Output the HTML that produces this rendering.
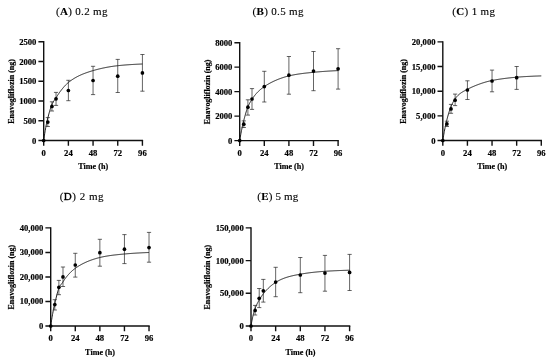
<!DOCTYPE html>
<html lang="en"><head><meta charset="utf-8"><title>Enavogliflozin release profiles</title>
<style>html,body{margin:0;padding:0;background:#fff}body{width:550px;height:364px;overflow:hidden}svg{display:block}</style>
</head><body>
<svg width="550" height="364" viewBox="0 0 550 364" font-family='"Liberation Serif", "Times New Roman", serif'><rect width="550" height="364" fill="#fff"/><g id="panelA"><text x="55.9" y="14.7" font-size="11" letter-spacing="0.33" fill="#000" stroke="#000" stroke-width="0.12">(<tspan font-weight="bold">A</tspan>) 0.2 mg</text><path d="M43.70 41.10V140.50" stroke="#111" stroke-width="1.4" fill="none"/><path d="M43.00 140.50H143.12" stroke="#111" stroke-width="1.4" fill="none"/><text x="36.40" y="143.50" font-size="8.65" font-weight="bold" stroke="#000" stroke-width="0.18" text-anchor="end" fill="#000">0</text><text x="36.40" y="123.76" font-size="8.65" font-weight="bold" stroke="#000" stroke-width="0.18" text-anchor="end" fill="#000">500</text><text x="36.40" y="104.02" font-size="8.65" font-weight="bold" stroke="#000" stroke-width="0.18" text-anchor="end" fill="#000">1000</text><text x="36.40" y="84.28" font-size="8.65" font-weight="bold" stroke="#000" stroke-width="0.18" text-anchor="end" fill="#000">1500</text><text x="36.40" y="64.54" font-size="8.65" font-weight="bold" stroke="#000" stroke-width="0.18" text-anchor="end" fill="#000">2000</text><text x="36.40" y="44.80" font-size="8.65" font-weight="bold" stroke="#000" stroke-width="0.18" text-anchor="end" fill="#000">2500</text><text x="43.70" y="155.90" font-size="8.65" font-weight="bold" stroke="#000" stroke-width="0.18" text-anchor="middle" fill="#000">0</text><text x="68.38" y="155.90" font-size="8.65" font-weight="bold" stroke="#000" stroke-width="0.18" text-anchor="middle" fill="#000">24</text><text x="93.06" y="155.90" font-size="8.65" font-weight="bold" stroke="#000" stroke-width="0.18" text-anchor="middle" fill="#000">48</text><text x="117.74" y="155.90" font-size="8.65" font-weight="bold" stroke="#000" stroke-width="0.18" text-anchor="middle" fill="#000">72</text><text x="142.42" y="155.90" font-size="8.65" font-weight="bold" stroke="#000" stroke-width="0.18" text-anchor="middle" fill="#000">96</text><path d="M38.40 140.50H43.70M38.40 120.76H43.70M38.40 101.02H43.70M38.40 81.28H43.70M38.40 61.54H43.70M38.40 41.80H43.70M43.70 140.50V145.80M68.38 140.50V145.80M93.06 140.50V145.80M117.74 140.50V145.80M142.42 140.50V145.80" stroke="#111" stroke-width="1.4" fill="none"/><text x="93.26" y="169.00" font-size="8.15" font-weight="bold" stroke="#000" stroke-width="0.18" text-anchor="middle" fill="#000">Time (h)</text><text transform="translate(14.10 91.45) rotate(-90)" font-size="7.95" font-weight="bold" stroke="#000" stroke-width="0.18" text-anchor="middle" fill="#000">Enavogliflozin (ng)</text><path d="M43.70 140.50 L43.96 138.63 L44.21 136.84 L44.47 135.12 L44.73 133.47 L44.99 131.89 L45.24 130.37 L45.50 128.90 L45.76 127.50 L46.01 126.15 L46.27 124.85 L46.53 123.59 L46.79 122.39 L47.04 121.23 L47.30 120.11 L47.56 119.04 L47.81 118.00 L48.07 116.99 L48.33 116.00 L48.58 115.02 L48.84 114.07 L49.10 113.13 L49.36 112.22 L49.61 111.32 L49.87 110.45 L50.13 109.61 L50.38 108.79 L50.64 108.00 L50.90 107.23 L51.16 106.50 L51.41 105.80 L51.67 105.13 L51.93 104.50 L52.18 103.91 L52.44 103.37 L52.70 102.86 L52.96 102.39 L53.21 101.95 L53.47 101.54 L53.73 101.15 L53.98 100.77 L54.24 100.41 L54.50 100.05 L54.75 99.70 L55.01 99.34 L55.27 98.98 L55.53 98.60 L55.78 98.21 L56.04 97.80 L56.30 97.38 L56.55 96.97 L56.81 96.56 L57.07 96.15 L57.33 95.75 L57.58 95.36 L57.84 94.97 L58.10 94.58 L58.35 94.20 L58.61 93.82 L58.87 93.45 L59.12 93.08 L59.38 92.71 L59.64 92.35 L59.90 91.99 L60.15 91.64 L60.41 91.29 L60.67 90.95 L60.92 90.60 L61.18 90.27 L61.44 89.93 L61.70 89.60 L61.95 89.27 L62.21 88.95 L62.47 88.63 L62.72 88.32 L62.98 88.01 L63.24 87.70 L63.50 87.40 L63.75 87.10 L64.01 86.81 L64.27 86.52 L64.52 86.23 L64.78 85.95 L65.04 85.67 L65.30 85.40 L65.55 85.13 L65.81 84.87 L66.07 84.61 L66.32 84.35 L66.58 84.10 L66.84 83.86 L67.09 83.62 L67.35 83.39 L67.61 83.16 L67.87 82.93 L68.12 82.71 L68.38 82.50 L68.89 82.08 L69.41 81.68 L69.92 81.28 L70.44 80.90 L70.95 80.53 L71.47 80.16 L71.98 79.81 L72.49 79.46 L73.01 79.13 L73.52 78.80 L74.04 78.48 L74.55 78.17 L75.06 77.86 L75.58 77.57 L76.09 77.28 L76.61 77.00 L77.12 76.73 L77.63 76.46 L78.15 76.20 L78.66 75.94 L79.18 75.69 L79.69 75.45 L80.21 75.21 L80.72 74.98 L81.23 74.75 L81.75 74.53 L82.26 74.32 L82.78 74.10 L83.29 73.90 L83.81 73.69 L84.32 73.50 L84.83 73.30 L85.35 73.11 L85.86 72.92 L86.38 72.74 L86.89 72.56 L87.40 72.38 L87.92 72.21 L88.43 72.04 L88.95 71.87 L89.46 71.70 L89.97 71.54 L90.49 71.38 L91.00 71.22 L91.52 71.06 L92.03 70.91 L92.55 70.75 L93.06 70.60 L93.57 70.45 L94.09 70.30 L94.60 70.16 L95.12 70.01 L95.63 69.87 L96.15 69.73 L96.66 69.60 L97.17 69.46 L97.69 69.33 L98.20 69.20 L98.72 69.07 L99.23 68.95 L99.74 68.82 L100.26 68.70 L100.77 68.58 L101.29 68.46 L101.80 68.35 L102.31 68.23 L102.83 68.12 L103.34 68.01 L103.86 67.90 L104.37 67.80 L104.89 67.69 L105.40 67.59 L105.91 67.49 L106.43 67.39 L106.94 67.29 L107.46 67.20 L107.97 67.11 L108.48 67.02 L109.00 66.93 L109.51 66.84 L110.03 66.75 L110.54 66.67 L111.06 66.59 L111.57 66.51 L112.08 66.43 L112.60 66.36 L113.11 66.28 L113.63 66.21 L114.14 66.14 L114.66 66.07 L115.17 66.00 L115.68 65.94 L116.20 65.88 L116.71 65.82 L117.23 65.76 L117.74 65.70 L118.25 65.64 L118.77 65.59 L119.28 65.54 L119.80 65.48 L120.31 65.43 L120.83 65.38 L121.34 65.33 L121.85 65.29 L122.37 65.24 L122.88 65.19 L123.40 65.15 L123.91 65.10 L124.42 65.06 L124.94 65.02 L125.45 64.98 L125.97 64.94 L126.48 64.90 L127.00 64.86 L127.51 64.82 L128.02 64.78 L128.54 64.75 L129.05 64.71 L129.57 64.68 L130.08 64.64 L130.59 64.61 L131.11 64.58 L131.62 64.54 L132.14 64.51 L132.65 64.48 L133.16 64.45 L133.68 64.42 L134.19 64.39 L134.71 64.36 L135.22 64.34 L135.74 64.31 L136.25 64.28 L136.76 64.26 L137.28 64.23 L137.79 64.20 L138.31 64.18 L138.82 64.16 L139.33 64.13 L139.85 64.11 L140.36 64.09 L140.88 64.06 L141.39 64.04 L141.91 64.02 L142.42 64.00" stroke="#111" stroke-width="0.95" fill="none" stroke-linejoin="round"/><path d="M47.81 117.60V126.50M45.71 117.60H49.91M45.71 126.50H49.91M51.93 101.80V111.00M49.83 101.80H54.03M49.83 111.00H54.03M56.04 92.40V105.40M53.94 92.40H58.14M53.94 105.40H58.14M68.38 80.30V100.70M66.28 80.30H70.48M66.28 100.70H70.48M93.06 66.30V94.60M90.96 66.30H95.16M90.96 94.60H95.16M117.74 59.40V92.50M115.64 59.40H119.84M115.64 92.50H119.84M142.42 54.50V91.20M140.32 54.50H144.52M140.32 91.20H144.52" stroke="#222" stroke-width="0.7" fill="none"/><circle cx="43.70" cy="140.50" r="1.85" fill="#000"/><circle cx="47.81" cy="122.10" r="1.85" fill="#000"/><circle cx="51.93" cy="106.40" r="1.85" fill="#000"/><circle cx="56.04" cy="98.80" r="1.85" fill="#000"/><circle cx="68.38" cy="90.50" r="1.85" fill="#000"/><circle cx="93.06" cy="80.50" r="1.85" fill="#000"/><circle cx="117.74" cy="76.20" r="1.85" fill="#000"/><circle cx="142.42" cy="72.90" r="1.85" fill="#000"/></g><g id="panelB"><text x="252.5" y="14.7" font-size="11" letter-spacing="0.33" fill="#000" stroke="#000" stroke-width="0.12">(<tspan font-weight="bold">B</tspan>) 0.5 mg</text><path d="M239.70 42.00V140.60" stroke="#111" stroke-width="1.4" fill="none"/><path d="M239.00 140.60H338.80" stroke="#111" stroke-width="1.4" fill="none"/><text x="232.40" y="143.60" font-size="8.65" font-weight="bold" stroke="#000" stroke-width="0.18" text-anchor="end" fill="#000">0</text><text x="232.40" y="119.12" font-size="8.65" font-weight="bold" stroke="#000" stroke-width="0.18" text-anchor="end" fill="#000">2000</text><text x="232.40" y="94.65" font-size="8.65" font-weight="bold" stroke="#000" stroke-width="0.18" text-anchor="end" fill="#000">4000</text><text x="232.40" y="70.17" font-size="8.65" font-weight="bold" stroke="#000" stroke-width="0.18" text-anchor="end" fill="#000">6000</text><text x="232.40" y="45.70" font-size="8.65" font-weight="bold" stroke="#000" stroke-width="0.18" text-anchor="end" fill="#000">8000</text><text x="239.70" y="156.00" font-size="8.65" font-weight="bold" stroke="#000" stroke-width="0.18" text-anchor="middle" fill="#000">0</text><text x="264.30" y="156.00" font-size="8.65" font-weight="bold" stroke="#000" stroke-width="0.18" text-anchor="middle" fill="#000">24</text><text x="288.90" y="156.00" font-size="8.65" font-weight="bold" stroke="#000" stroke-width="0.18" text-anchor="middle" fill="#000">48</text><text x="313.50" y="156.00" font-size="8.65" font-weight="bold" stroke="#000" stroke-width="0.18" text-anchor="middle" fill="#000">72</text><text x="338.10" y="156.00" font-size="8.65" font-weight="bold" stroke="#000" stroke-width="0.18" text-anchor="middle" fill="#000">96</text><path d="M234.40 140.60H239.70M234.40 116.12H239.70M234.40 91.65H239.70M234.40 67.17H239.70M234.40 42.70H239.70M239.70 140.60V145.90M264.30 140.60V145.90M288.90 140.60V145.90M313.50 140.60V145.90M338.10 140.60V145.90" stroke="#111" stroke-width="1.4" fill="none"/><text x="289.10" y="169.10" font-size="8.15" font-weight="bold" stroke="#000" stroke-width="0.18" text-anchor="middle" fill="#000">Time (h)</text><text transform="translate(210.10 91.95) rotate(-90)" font-size="7.95" font-weight="bold" stroke="#000" stroke-width="0.18" text-anchor="middle" fill="#000">Enavogliflozin (ng)</text><path d="M239.70 140.60 L239.96 139.03 L240.21 137.51 L240.47 136.04 L240.72 134.61 L240.98 133.22 L241.24 131.88 L241.49 130.57 L241.75 129.30 L242.01 128.07 L242.26 126.88 L242.52 125.72 L242.77 124.59 L243.03 123.50 L243.29 122.43 L243.54 121.40 L243.80 120.40 L244.06 119.42 L244.31 118.45 L244.57 117.49 L244.82 116.54 L245.08 115.61 L245.34 114.69 L245.59 113.80 L245.85 112.92 L246.11 112.07 L246.36 111.24 L246.62 110.44 L246.88 109.67 L247.13 108.93 L247.39 108.22 L247.64 107.54 L247.90 106.90 L248.16 106.29 L248.41 105.71 L248.67 105.16 L248.92 104.62 L249.18 104.11 L249.44 103.62 L249.69 103.14 L249.95 102.68 L250.21 102.23 L250.46 101.79 L250.72 101.36 L250.97 100.94 L251.23 100.52 L251.49 100.11 L251.74 99.71 L252.00 99.30 L252.26 98.90 L252.51 98.50 L252.77 98.12 L253.02 97.74 L253.28 97.38 L253.54 97.02 L253.79 96.67 L254.05 96.32 L254.31 95.98 L254.56 95.65 L254.82 95.33 L255.07 95.01 L255.33 94.70 L255.59 94.39 L255.84 94.10 L256.10 93.80 L256.36 93.51 L256.61 93.23 L256.87 92.95 L257.12 92.68 L257.38 92.41 L257.64 92.15 L257.89 91.89 L258.15 91.64 L258.41 91.39 L258.66 91.14 L258.92 90.90 L259.18 90.67 L259.43 90.43 L259.69 90.20 L259.94 89.98 L260.20 89.75 L260.46 89.53 L260.71 89.32 L260.97 89.11 L261.22 88.90 L261.48 88.69 L261.74 88.49 L261.99 88.29 L262.25 88.09 L262.51 87.89 L262.76 87.70 L263.02 87.51 L263.27 87.32 L263.53 87.14 L263.79 86.96 L264.04 86.78 L264.30 86.60 L264.81 86.25 L265.32 85.91 L265.84 85.58 L266.35 85.25 L266.86 84.93 L267.38 84.62 L267.89 84.32 L268.40 84.02 L268.91 83.73 L269.43 83.44 L269.94 83.16 L270.45 82.88 L270.96 82.61 L271.47 82.35 L271.99 82.09 L272.50 81.84 L273.01 81.59 L273.52 81.34 L274.04 81.10 L274.55 80.87 L275.06 80.63 L275.57 80.41 L276.09 80.19 L276.60 79.97 L277.11 79.75 L277.62 79.54 L278.14 79.34 L278.65 79.14 L279.16 78.94 L279.68 78.74 L280.19 78.55 L280.70 78.37 L281.21 78.19 L281.72 78.01 L282.24 77.83 L282.75 77.66 L283.26 77.49 L283.77 77.33 L284.29 77.17 L284.80 77.02 L285.31 76.86 L285.82 76.71 L286.34 76.57 L286.85 76.43 L287.36 76.29 L287.88 76.16 L288.39 76.03 L288.90 75.90 L289.41 75.78 L289.93 75.66 L290.44 75.54 L290.95 75.43 L291.46 75.32 L291.98 75.21 L292.49 75.10 L293.00 75.00 L293.51 74.90 L294.02 74.80 L294.54 74.71 L295.05 74.61 L295.56 74.52 L296.07 74.44 L296.59 74.35 L297.10 74.27 L297.61 74.18 L298.12 74.10 L298.64 74.03 L299.15 73.95 L299.66 73.88 L300.18 73.80 L300.69 73.73 L301.20 73.66 L301.71 73.60 L302.23 73.53 L302.74 73.46 L303.25 73.40 L303.76 73.34 L304.27 73.28 L304.79 73.21 L305.30 73.16 L305.81 73.10 L306.32 73.04 L306.84 72.98 L307.35 72.93 L307.86 72.87 L308.38 72.82 L308.89 72.76 L309.40 72.71 L309.91 72.66 L310.43 72.61 L310.94 72.55 L311.45 72.50 L311.96 72.45 L312.48 72.40 L312.99 72.35 L313.50 72.30 L314.01 72.25 L314.52 72.20 L315.04 72.15 L315.55 72.10 L316.06 72.06 L316.57 72.01 L317.09 71.96 L317.60 71.92 L318.11 71.88 L318.62 71.83 L319.14 71.79 L319.65 71.75 L320.16 71.70 L320.68 71.66 L321.19 71.62 L321.70 71.58 L322.21 71.54 L322.73 71.51 L323.24 71.47 L323.75 71.43 L324.26 71.39 L324.77 71.36 L325.29 71.32 L325.80 71.29 L326.31 71.25 L326.82 71.22 L327.34 71.18 L327.85 71.15 L328.36 71.12 L328.88 71.09 L329.39 71.06 L329.90 71.02 L330.41 70.99 L330.93 70.96 L331.44 70.94 L331.95 70.91 L332.46 70.88 L332.97 70.85 L333.49 70.82 L334.00 70.80 L334.51 70.77 L335.02 70.74 L335.54 70.72 L336.05 70.69 L336.56 70.67 L337.07 70.65 L337.59 70.62 L338.10 70.60" stroke="#111" stroke-width="0.95" fill="none" stroke-linejoin="round"/><path d="M243.80 120.90V127.50M241.70 120.90H245.90M241.70 127.50H245.90M247.90 99.80V115.10M245.80 99.80H250.00M245.80 115.10H250.00M252.00 88.60V109.40M249.90 88.60H254.10M249.90 109.40H254.10M264.30 71.30V102.00M262.20 71.30H266.40M262.20 102.00H266.40M288.90 56.50V94.20M286.80 56.50H291.00M286.80 94.20H291.00M313.50 51.50V90.70M311.40 51.50H315.60M311.40 90.70H315.60M338.10 48.70V89.10M336.00 48.70H340.20M336.00 89.10H340.20" stroke="#222" stroke-width="0.7" fill="none"/><circle cx="239.70" cy="140.60" r="1.85" fill="#000"/><circle cx="243.80" cy="124.20" r="1.85" fill="#000"/><circle cx="247.90" cy="107.20" r="1.85" fill="#000"/><circle cx="252.00" cy="99.00" r="1.85" fill="#000"/><circle cx="264.30" cy="86.60" r="1.85" fill="#000"/><circle cx="288.90" cy="75.20" r="1.85" fill="#000"/><circle cx="313.50" cy="71.10" r="1.85" fill="#000"/><circle cx="338.10" cy="68.80" r="1.85" fill="#000"/></g><g id="panelC"><text x="452.3" y="14.7" font-size="11" letter-spacing="0.33" fill="#000" stroke="#000" stroke-width="0.12">(<tspan font-weight="bold">C</tspan>) 1 mg</text><path d="M442.80 41.20V140.50" stroke="#111" stroke-width="1.4" fill="none"/><path d="M442.10 140.50H541.98" stroke="#111" stroke-width="1.4" fill="none"/><text x="435.50" y="143.50" font-size="8.65" font-weight="bold" stroke="#000" stroke-width="0.18" text-anchor="end" fill="#000">0</text><text x="435.50" y="118.85" font-size="8.65" font-weight="bold" stroke="#000" stroke-width="0.18" text-anchor="end" fill="#000">5,000</text><text x="435.50" y="94.20" font-size="8.65" font-weight="bold" stroke="#000" stroke-width="0.18" text-anchor="end" fill="#000">10,000</text><text x="435.50" y="69.55" font-size="8.65" font-weight="bold" stroke="#000" stroke-width="0.18" text-anchor="end" fill="#000">15,000</text><text x="435.50" y="44.90" font-size="8.65" font-weight="bold" stroke="#000" stroke-width="0.18" text-anchor="end" fill="#000">20,000</text><text x="442.80" y="155.90" font-size="8.65" font-weight="bold" stroke="#000" stroke-width="0.18" text-anchor="middle" fill="#000">0</text><text x="467.42" y="155.90" font-size="8.65" font-weight="bold" stroke="#000" stroke-width="0.18" text-anchor="middle" fill="#000">24</text><text x="492.04" y="155.90" font-size="8.65" font-weight="bold" stroke="#000" stroke-width="0.18" text-anchor="middle" fill="#000">48</text><text x="516.66" y="155.90" font-size="8.65" font-weight="bold" stroke="#000" stroke-width="0.18" text-anchor="middle" fill="#000">72</text><text x="541.28" y="155.90" font-size="8.65" font-weight="bold" stroke="#000" stroke-width="0.18" text-anchor="middle" fill="#000">96</text><path d="M437.50 140.50H442.80M437.50 115.85H442.80M437.50 91.20H442.80M437.50 66.55H442.80M437.50 41.90H442.80M442.80 140.50V145.80M467.42 140.50V145.80M492.04 140.50V145.80M516.66 140.50V145.80M541.28 140.50V145.80" stroke="#111" stroke-width="1.4" fill="none"/><text x="492.24" y="169.00" font-size="8.15" font-weight="bold" stroke="#000" stroke-width="0.18" text-anchor="middle" fill="#000">Time (h)</text><text transform="translate(406.40 91.50) rotate(-90)" font-size="7.95" font-weight="bold" stroke="#000" stroke-width="0.18" text-anchor="middle" fill="#000">Enavogliflozin (ng)</text><path d="M442.80 140.50 L443.06 138.85 L443.31 137.25 L443.57 135.71 L443.83 134.22 L444.08 132.78 L444.34 131.39 L444.60 130.04 L444.85 128.74 L445.11 127.48 L445.36 126.26 L445.62 125.08 L445.88 123.93 L446.13 122.82 L446.39 121.75 L446.65 120.71 L446.90 119.70 L447.16 118.72 L447.42 117.75 L447.67 116.81 L447.93 115.88 L448.19 114.98 L448.44 114.10 L448.70 113.24 L448.95 112.40 L449.21 111.59 L449.47 110.80 L449.72 110.03 L449.98 109.29 L450.24 108.58 L450.49 107.89 L450.75 107.23 L451.01 106.60 L451.26 105.99 L451.52 105.40 L451.78 104.83 L452.03 104.27 L452.29 103.73 L452.55 103.21 L452.80 102.70 L453.06 102.21 L453.31 101.73 L453.57 101.27 L453.83 100.82 L454.08 100.39 L454.34 99.97 L454.60 99.57 L454.85 99.18 L455.11 98.80 L455.37 98.44 L455.62 98.09 L455.88 97.75 L456.14 97.42 L456.39 97.11 L456.65 96.80 L456.91 96.51 L457.16 96.23 L457.42 95.95 L457.67 95.69 L457.93 95.43 L458.19 95.18 L458.44 94.94 L458.70 94.71 L458.96 94.48 L459.21 94.27 L459.47 94.06 L459.73 93.85 L459.98 93.65 L460.24 93.46 L460.50 93.27 L460.75 93.09 L461.01 92.91 L461.26 92.74 L461.52 92.57 L461.78 92.40 L462.03 92.24 L462.29 92.08 L462.55 91.93 L462.80 91.78 L463.06 91.63 L463.32 91.48 L463.57 91.34 L463.83 91.19 L464.09 91.05 L464.34 90.92 L464.60 90.78 L464.86 90.64 L465.11 90.51 L465.37 90.37 L465.62 90.24 L465.88 90.11 L466.14 89.97 L466.39 89.84 L466.65 89.70 L466.91 89.57 L467.16 89.44 L467.42 89.30 L467.93 89.03 L468.45 88.77 L468.96 88.51 L469.47 88.25 L469.98 88.00 L470.50 87.76 L471.01 87.52 L471.52 87.28 L472.04 87.05 L472.55 86.82 L473.06 86.60 L473.57 86.38 L474.09 86.16 L474.60 85.94 L475.11 85.73 L475.63 85.52 L476.14 85.32 L476.65 85.12 L477.17 84.92 L477.68 84.72 L478.19 84.53 L478.70 84.34 L479.22 84.15 L479.73 83.97 L480.24 83.78 L480.76 83.61 L481.27 83.43 L481.78 83.26 L482.29 83.09 L482.81 82.92 L483.32 82.76 L483.83 82.60 L484.35 82.44 L484.86 82.29 L485.37 82.14 L485.88 81.99 L486.40 81.85 L486.91 81.71 L487.42 81.57 L487.94 81.44 L488.45 81.31 L488.96 81.18 L489.48 81.06 L489.99 80.94 L490.50 80.82 L491.01 80.71 L491.53 80.60 L492.04 80.50 L492.55 80.40 L493.07 80.30 L493.58 80.20 L494.09 80.11 L494.60 80.01 L495.12 79.92 L495.63 79.83 L496.14 79.74 L496.66 79.65 L497.17 79.57 L497.68 79.48 L498.19 79.40 L498.71 79.32 L499.22 79.24 L499.73 79.16 L500.25 79.08 L500.76 79.01 L501.27 78.93 L501.79 78.86 L502.30 78.79 L502.81 78.71 L503.32 78.65 L503.84 78.58 L504.35 78.51 L504.86 78.44 L505.38 78.38 L505.89 78.31 L506.40 78.25 L506.91 78.19 L507.43 78.13 L507.94 78.07 L508.45 78.01 L508.97 77.95 L509.48 77.90 L509.99 77.84 L510.50 77.79 L511.02 77.73 L511.53 77.68 L512.04 77.63 L512.56 77.58 L513.07 77.53 L513.58 77.48 L514.10 77.43 L514.61 77.38 L515.12 77.34 L515.63 77.29 L516.15 77.24 L516.66 77.20 L517.17 77.16 L517.69 77.11 L518.20 77.07 L518.71 77.03 L519.22 76.99 L519.74 76.95 L520.25 76.91 L520.76 76.88 L521.28 76.84 L521.79 76.80 L522.30 76.77 L522.82 76.74 L523.33 76.70 L523.84 76.67 L524.35 76.64 L524.87 76.61 L525.38 76.58 L525.89 76.55 L526.41 76.52 L526.92 76.49 L527.43 76.46 L527.94 76.44 L528.46 76.41 L528.97 76.38 L529.48 76.36 L530.00 76.33 L530.51 76.31 L531.02 76.29 L531.53 76.26 L532.05 76.24 L532.56 76.22 L533.07 76.20 L533.59 76.17 L534.10 76.15 L534.61 76.13 L535.12 76.11 L535.64 76.09 L536.15 76.07 L536.66 76.06 L537.18 76.04 L537.69 76.02 L538.20 76.00 L538.72 75.98 L539.23 75.97 L539.74 75.95 L540.25 75.93 L540.77 75.92 L541.28 75.90" stroke="#111" stroke-width="0.95" fill="none" stroke-linejoin="round"/><path d="M446.90 121.20V126.50M444.80 121.20H449.00M444.80 126.50H449.00M451.01 104.40V113.30M448.91 104.40H453.11M448.91 113.30H453.11M455.11 94.10V105.60M453.01 94.10H457.21M453.01 105.60H457.21M467.42 80.80V99.50M465.32 80.80H469.52M465.32 99.50H469.52M492.04 70.10V91.80M489.94 70.10H494.14M489.94 91.80H494.14M516.66 66.50V89.40M514.56 66.50H518.76M514.56 89.40H518.76" stroke="#222" stroke-width="0.7" fill="none"/><circle cx="442.80" cy="140.50" r="1.85" fill="#000"/><circle cx="446.90" cy="123.90" r="1.85" fill="#000"/><circle cx="451.01" cy="108.90" r="1.85" fill="#000"/><circle cx="455.11" cy="100.20" r="1.85" fill="#000"/><circle cx="467.42" cy="90.00" r="1.85" fill="#000"/><circle cx="492.04" cy="81.00" r="1.85" fill="#000"/><circle cx="516.66" cy="77.70" r="1.85" fill="#000"/></g><g id="panelD"><text x="59.7" y="200.4" font-size="11" letter-spacing="0.5" fill="#000" stroke="#000" stroke-width="0.12">(<tspan font-weight="normal" stroke-width="0.35">D</tspan>) 2 mg</text><path d="M50.70 227.20V326.00" stroke="#111" stroke-width="1.4" fill="none"/><path d="M50.00 326.00H149.72" stroke="#111" stroke-width="1.4" fill="none"/><text x="43.40" y="329.00" font-size="8.65" font-weight="bold" stroke="#000" stroke-width="0.18" text-anchor="end" fill="#000">0</text><text x="43.40" y="304.48" font-size="8.65" font-weight="bold" stroke="#000" stroke-width="0.18" text-anchor="end" fill="#000">10,000</text><text x="43.40" y="279.95" font-size="8.65" font-weight="bold" stroke="#000" stroke-width="0.18" text-anchor="end" fill="#000">20,000</text><text x="43.40" y="255.43" font-size="8.65" font-weight="bold" stroke="#000" stroke-width="0.18" text-anchor="end" fill="#000">30,000</text><text x="43.40" y="230.90" font-size="8.65" font-weight="bold" stroke="#000" stroke-width="0.18" text-anchor="end" fill="#000">40,000</text><text x="50.70" y="341.40" font-size="8.65" font-weight="bold" stroke="#000" stroke-width="0.18" text-anchor="middle" fill="#000">0</text><text x="75.28" y="341.40" font-size="8.65" font-weight="bold" stroke="#000" stroke-width="0.18" text-anchor="middle" fill="#000">24</text><text x="99.86" y="341.40" font-size="8.65" font-weight="bold" stroke="#000" stroke-width="0.18" text-anchor="middle" fill="#000">48</text><text x="124.44" y="341.40" font-size="8.65" font-weight="bold" stroke="#000" stroke-width="0.18" text-anchor="middle" fill="#000">72</text><text x="149.02" y="341.40" font-size="8.65" font-weight="bold" stroke="#000" stroke-width="0.18" text-anchor="middle" fill="#000">96</text><path d="M45.40 326.00H50.70M45.40 301.48H50.70M45.40 276.95H50.70M45.40 252.43H50.70M45.40 227.90H50.70M50.70 326.00V331.30M75.28 326.00V331.30M99.86 326.00V331.30M124.44 326.00V331.30M149.02 326.00V331.30" stroke="#111" stroke-width="1.4" fill="none"/><text x="100.06" y="354.50" font-size="8.15" font-weight="bold" stroke="#000" stroke-width="0.18" text-anchor="middle" fill="#000">Time (h)</text><text transform="translate(13.70 277.25) rotate(-90)" font-size="7.95" font-weight="bold" stroke="#000" stroke-width="0.18" text-anchor="middle" fill="#000">Enavogliflozin (ng)</text><path d="M50.70 326.00 L50.96 324.22 L51.21 322.50 L51.47 320.84 L51.72 319.23 L51.98 317.67 L52.24 316.16 L52.49 314.70 L52.75 313.29 L53.00 311.92 L53.26 310.60 L53.52 309.32 L53.77 308.07 L54.03 306.87 L54.28 305.71 L54.54 304.59 L54.80 303.50 L55.05 302.43 L55.31 301.35 L55.56 300.27 L55.82 299.19 L56.08 298.12 L56.33 297.06 L56.59 296.02 L56.84 295.00 L57.10 294.01 L57.36 293.04 L57.61 292.12 L57.87 291.23 L58.13 290.39 L58.38 289.60 L58.64 288.87 L58.89 288.20 L59.15 287.59 L59.41 287.04 L59.66 286.55 L59.92 286.09 L60.17 285.68 L60.43 285.30 L60.69 284.95 L60.94 284.61 L61.20 284.29 L61.45 283.98 L61.71 283.67 L61.97 283.35 L62.22 283.02 L62.48 282.67 L62.73 282.30 L62.99 281.90 L63.25 281.49 L63.50 281.08 L63.76 280.68 L64.01 280.29 L64.27 279.91 L64.53 279.53 L64.78 279.16 L65.04 278.80 L65.29 278.45 L65.55 278.10 L65.81 277.76 L66.06 277.42 L66.32 277.09 L66.57 276.76 L66.83 276.44 L67.09 276.13 L67.34 275.82 L67.60 275.51 L67.85 275.22 L68.11 274.92 L68.37 274.63 L68.62 274.34 L68.88 274.06 L69.14 273.79 L69.39 273.51 L69.65 273.25 L69.90 272.98 L70.16 272.72 L70.42 272.47 L70.67 272.21 L70.93 271.97 L71.18 271.72 L71.44 271.48 L71.70 271.24 L71.95 271.01 L72.21 270.78 L72.46 270.56 L72.72 270.33 L72.98 270.11 L73.23 269.90 L73.49 269.69 L73.74 269.48 L74.00 269.27 L74.26 269.07 L74.51 268.87 L74.77 268.68 L75.02 268.49 L75.28 268.30 L75.79 267.93 L76.30 267.57 L76.82 267.22 L77.33 266.88 L77.84 266.55 L78.35 266.23 L78.86 265.91 L79.38 265.60 L79.89 265.30 L80.40 265.00 L80.91 264.71 L81.42 264.43 L81.94 264.15 L82.45 263.88 L82.96 263.62 L83.47 263.36 L83.99 263.11 L84.50 262.86 L85.01 262.62 L85.52 262.38 L86.03 262.15 L86.55 261.93 L87.06 261.71 L87.57 261.49 L88.08 261.28 L88.59 261.07 L89.11 260.87 L89.62 260.67 L90.13 260.47 L90.64 260.28 L91.15 260.10 L91.67 259.92 L92.18 259.74 L92.69 259.57 L93.20 259.40 L93.72 259.23 L94.23 259.07 L94.74 258.91 L95.25 258.75 L95.76 258.60 L96.28 258.45 L96.79 258.31 L97.30 258.16 L97.81 258.02 L98.32 257.89 L98.84 257.76 L99.35 257.63 L99.86 257.50 L100.37 257.38 L100.88 257.26 L101.40 257.14 L101.91 257.03 L102.42 256.92 L102.93 256.81 L103.44 256.70 L103.96 256.60 L104.47 256.50 L104.98 256.41 L105.49 256.31 L106.00 256.22 L106.52 256.13 L107.03 256.05 L107.54 255.96 L108.05 255.88 L108.57 255.80 L109.08 255.72 L109.59 255.64 L110.10 255.57 L110.61 255.50 L111.13 255.43 L111.64 255.36 L112.15 255.29 L112.66 255.23 L113.17 255.16 L113.69 255.10 L114.20 255.04 L114.71 254.98 L115.22 254.92 L115.73 254.86 L116.25 254.80 L116.76 254.75 L117.27 254.69 L117.78 254.64 L118.30 254.59 L118.81 254.54 L119.32 254.48 L119.83 254.43 L120.34 254.38 L120.86 254.33 L121.37 254.29 L121.88 254.24 L122.39 254.19 L122.90 254.14 L123.42 254.09 L123.93 254.05 L124.44 254.00 L124.95 253.95 L125.46 253.91 L125.98 253.86 L126.49 253.82 L127.00 253.78 L127.51 253.73 L128.02 253.69 L128.54 253.65 L129.05 253.61 L129.56 253.57 L130.07 253.53 L130.58 253.49 L131.10 253.46 L131.61 253.42 L132.12 253.38 L132.63 253.35 L133.15 253.31 L133.66 253.28 L134.17 253.25 L134.68 253.21 L135.19 253.18 L135.71 253.15 L136.22 253.12 L136.73 253.09 L137.24 253.06 L137.75 253.03 L138.27 253.00 L138.78 252.97 L139.29 252.94 L139.80 252.91 L140.31 252.89 L140.83 252.86 L141.34 252.83 L141.85 252.81 L142.36 252.78 L142.88 252.76 L143.39 252.73 L143.90 252.71 L144.41 252.69 L144.92 252.67 L145.44 252.64 L145.95 252.62 L146.46 252.60 L146.97 252.58 L147.48 252.56 L148.00 252.54 L148.51 252.52 L149.02 252.50" stroke="#111" stroke-width="0.95" fill="none" stroke-linejoin="round"/><path d="M54.80 299.70V310.00M52.70 299.70H56.90M52.70 310.00H56.90M58.89 280.40V294.70M56.79 280.40H60.99M56.79 294.70H60.99M62.99 267.00V286.50M60.89 267.00H65.09M60.89 286.50H65.09M75.28 253.30V277.10M73.18 253.30H77.38M73.18 277.10H77.38M99.86 239.30V266.20M97.76 239.30H101.96M97.76 266.20H101.96M124.44 234.60V263.60M122.34 234.60H126.54M122.34 263.60H126.54M149.02 232.40V262.20M146.92 232.40H151.12M146.92 262.20H151.12" stroke="#222" stroke-width="0.7" fill="none"/><circle cx="50.70" cy="326.00" r="1.85" fill="#000"/><circle cx="54.80" cy="304.60" r="1.85" fill="#000"/><circle cx="58.89" cy="287.30" r="1.85" fill="#000"/><circle cx="62.99" cy="276.90" r="1.85" fill="#000"/><circle cx="75.28" cy="265.00" r="1.85" fill="#000"/><circle cx="99.86" cy="252.70" r="1.85" fill="#000"/><circle cx="124.44" cy="249.20" r="1.85" fill="#000"/><circle cx="149.02" cy="247.60" r="1.85" fill="#000"/></g><g id="panelE"><text x="257.3" y="200.4" font-size="11" letter-spacing="0.18" fill="#000" stroke="#000" stroke-width="0.12">(<tspan font-weight="bold">E</tspan>) 5 mg</text><path d="M251.00 227.20V326.00" stroke="#111" stroke-width="1.4" fill="none"/><path d="M250.30 326.00H350.30" stroke="#111" stroke-width="1.4" fill="none"/><text x="243.70" y="329.00" font-size="8.65" font-weight="bold" stroke="#000" stroke-width="0.18" text-anchor="end" fill="#000">0</text><text x="243.70" y="296.30" font-size="8.65" font-weight="bold" stroke="#000" stroke-width="0.18" text-anchor="end" fill="#000">50,000</text><text x="243.70" y="263.60" font-size="8.65" font-weight="bold" stroke="#000" stroke-width="0.18" text-anchor="end" fill="#000">100,000</text><text x="243.70" y="230.90" font-size="8.65" font-weight="bold" stroke="#000" stroke-width="0.18" text-anchor="end" fill="#000">150,000</text><text x="251.00" y="341.40" font-size="8.65" font-weight="bold" stroke="#000" stroke-width="0.18" text-anchor="middle" fill="#000">0</text><text x="275.65" y="341.40" font-size="8.65" font-weight="bold" stroke="#000" stroke-width="0.18" text-anchor="middle" fill="#000">24</text><text x="300.30" y="341.40" font-size="8.65" font-weight="bold" stroke="#000" stroke-width="0.18" text-anchor="middle" fill="#000">48</text><text x="324.95" y="341.40" font-size="8.65" font-weight="bold" stroke="#000" stroke-width="0.18" text-anchor="middle" fill="#000">72</text><text x="349.60" y="341.40" font-size="8.65" font-weight="bold" stroke="#000" stroke-width="0.18" text-anchor="middle" fill="#000">96</text><path d="M245.70 326.00H251.00M245.70 293.30H251.00M245.70 260.60H251.00M245.70 227.90H251.00M251.00 326.00V331.30M275.65 326.00V331.30M300.30 326.00V331.30M324.95 326.00V331.30M349.60 326.00V331.30" stroke="#111" stroke-width="1.4" fill="none"/><text x="300.50" y="354.50" font-size="8.15" font-weight="bold" stroke="#000" stroke-width="0.18" text-anchor="middle" fill="#000">Time (h)</text><text transform="translate(210.20 277.25) rotate(-90)" font-size="7.95" font-weight="bold" stroke="#000" stroke-width="0.18" text-anchor="middle" fill="#000">Enavogliflozin (ng)</text><path d="M251.00 326.00 L251.26 324.40 L251.51 322.90 L251.77 321.49 L252.03 320.16 L252.28 318.90 L252.54 317.71 L252.80 316.58 L253.05 315.51 L253.31 314.50 L253.57 313.53 L253.82 312.62 L254.08 311.74 L254.34 310.90 L254.59 310.10 L254.85 309.34 L255.11 308.60 L255.37 307.90 L255.62 307.23 L255.88 306.59 L256.14 305.97 L256.39 305.39 L256.65 304.82 L256.91 304.28 L257.16 303.75 L257.42 303.24 L257.68 302.75 L257.93 302.27 L258.19 301.80 L258.45 301.34 L258.70 300.89 L258.96 300.44 L259.22 300.00 L259.47 299.56 L259.73 299.13 L259.99 298.71 L260.24 298.29 L260.50 297.88 L260.76 297.48 L261.01 297.08 L261.27 296.69 L261.53 296.30 L261.78 295.92 L262.04 295.55 L262.30 295.19 L262.55 294.83 L262.81 294.48 L263.07 294.13 L263.32 293.80 L263.58 293.47 L263.84 293.15 L264.10 292.83 L264.35 292.52 L264.61 292.21 L264.87 291.91 L265.12 291.61 L265.38 291.31 L265.64 291.02 L265.89 290.74 L266.15 290.45 L266.41 290.18 L266.66 289.90 L266.92 289.63 L267.18 289.37 L267.43 289.10 L267.69 288.84 L267.95 288.59 L268.20 288.34 L268.46 288.09 L268.72 287.84 L268.97 287.60 L269.23 287.36 L269.49 287.13 L269.74 286.90 L270.00 286.67 L270.26 286.44 L270.51 286.22 L270.77 286.00 L271.03 285.79 L271.28 285.58 L271.54 285.37 L271.80 285.16 L272.06 284.96 L272.31 284.76 L272.57 284.56 L272.83 284.36 L273.08 284.17 L273.34 283.98 L273.60 283.79 L273.85 283.61 L274.11 283.43 L274.37 283.25 L274.62 283.08 L274.88 282.90 L275.14 282.73 L275.39 282.57 L275.65 282.40 L276.16 282.08 L276.68 281.77 L277.19 281.46 L277.70 281.17 L278.22 280.89 L278.73 280.61 L279.24 280.35 L279.76 280.09 L280.27 279.84 L280.79 279.60 L281.30 279.37 L281.81 279.15 L282.33 278.93 L282.84 278.72 L283.35 278.51 L283.87 278.32 L284.38 278.12 L284.89 277.94 L285.41 277.76 L285.92 277.59 L286.43 277.42 L286.95 277.25 L287.46 277.10 L287.98 276.94 L288.49 276.79 L289.00 276.65 L289.52 276.51 L290.03 276.37 L290.54 276.24 L291.06 276.11 L291.57 275.98 L292.08 275.86 L292.60 275.74 L293.11 275.63 L293.62 275.51 L294.14 275.40 L294.65 275.29 L295.16 275.18 L295.68 275.08 L296.19 274.98 L296.71 274.87 L297.22 274.78 L297.73 274.68 L298.25 274.58 L298.76 274.48 L299.27 274.39 L299.79 274.29 L300.30 274.20 L300.81 274.11 L301.33 274.02 L301.84 273.93 L302.35 273.84 L302.87 273.75 L303.38 273.67 L303.89 273.59 L304.41 273.51 L304.92 273.43 L305.44 273.35 L305.95 273.27 L306.46 273.20 L306.98 273.13 L307.49 273.05 L308.00 272.98 L308.52 272.91 L309.03 272.85 L309.54 272.78 L310.06 272.71 L310.57 272.65 L311.08 272.59 L311.60 272.53 L312.11 272.47 L312.62 272.41 L313.14 272.35 L313.65 272.29 L314.17 272.23 L314.68 272.18 L315.19 272.13 L315.71 272.07 L316.22 272.02 L316.73 271.97 L317.25 271.92 L317.76 271.87 L318.27 271.83 L318.79 271.78 L319.30 271.73 L319.81 271.69 L320.33 271.65 L320.84 271.60 L321.36 271.56 L321.87 271.52 L322.38 271.48 L322.90 271.44 L323.41 271.41 L323.92 271.37 L324.44 271.33 L324.95 271.30 L325.46 271.27 L325.98 271.23 L326.49 271.20 L327.00 271.17 L327.52 271.14 L328.03 271.11 L328.54 271.08 L329.06 271.05 L329.57 271.02 L330.09 270.99 L330.60 270.96 L331.11 270.93 L331.63 270.91 L332.14 270.88 L332.65 270.86 L333.17 270.83 L333.68 270.80 L334.19 270.78 L334.71 270.76 L335.22 270.73 L335.73 270.71 L336.25 270.69 L336.76 270.66 L337.27 270.64 L337.79 270.62 L338.30 270.60 L338.82 270.58 L339.33 270.56 L339.84 270.54 L340.36 270.51 L340.87 270.50 L341.38 270.48 L341.90 270.46 L342.41 270.44 L342.92 270.42 L343.44 270.40 L343.95 270.38 L344.46 270.36 L344.98 270.35 L345.49 270.33 L346.01 270.31 L346.52 270.30 L347.03 270.28 L347.55 270.26 L348.06 270.25 L348.57 270.23 L349.09 270.22 L349.60 270.20" stroke="#111" stroke-width="0.95" fill="none" stroke-linejoin="round"/><path d="M255.11 305.40V315.00M253.01 305.40H257.21M253.01 315.00H257.21M259.22 288.50V307.60M257.12 288.50H261.32M257.12 307.60H261.32M263.32 279.40V302.10M261.22 279.40H265.43M261.22 302.10H265.43M275.65 267.30V296.70M273.55 267.30H277.75M273.55 296.70H277.75M300.30 257.50V292.70M298.20 257.50H302.40M298.20 292.70H302.40M324.95 255.40V291.20M322.85 255.40H327.05M322.85 291.20H327.05M349.60 254.40V290.50M347.50 254.40H351.70M347.50 290.50H351.70" stroke="#222" stroke-width="0.7" fill="none"/><circle cx="251.00" cy="326.00" r="1.85" fill="#000"/><circle cx="255.11" cy="310.40" r="1.85" fill="#000"/><circle cx="259.22" cy="298.30" r="1.85" fill="#000"/><circle cx="263.32" cy="290.80" r="1.85" fill="#000"/><circle cx="275.65" cy="282.10" r="1.85" fill="#000"/><circle cx="300.30" cy="275.00" r="1.85" fill="#000"/><circle cx="324.95" cy="273.10" r="1.85" fill="#000"/><circle cx="349.60" cy="272.40" r="1.85" fill="#000"/></g></svg>
</body></html>
